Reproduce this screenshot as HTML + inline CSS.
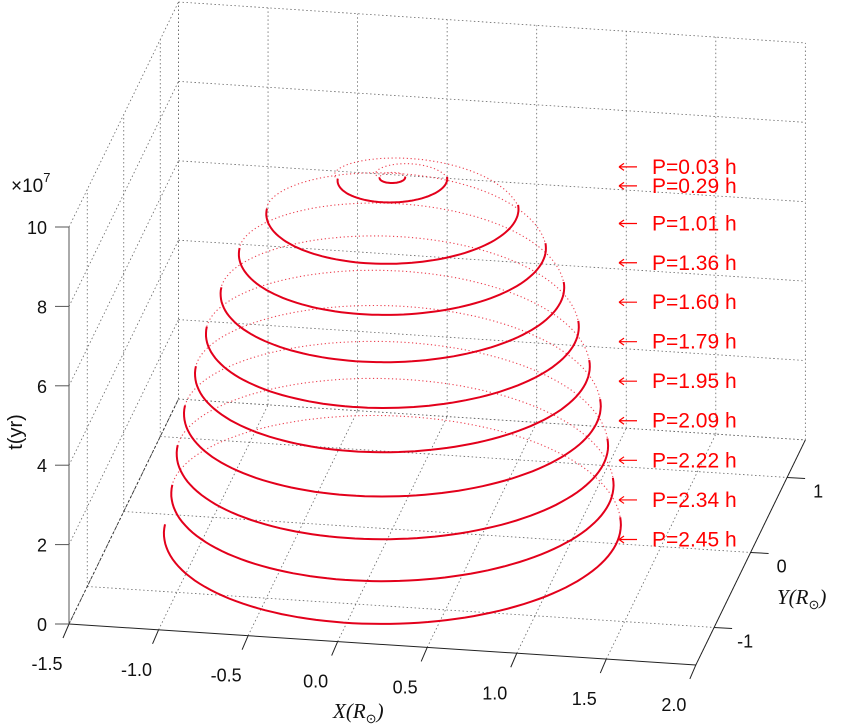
<!DOCTYPE html>
<html><head><meta charset="utf-8"><style>
html,body{margin:0;padding:0;background:#fff;}
svg{display:block;font-family:"Liberation Sans",sans-serif;}
</style></head><body>
<svg id="chart" width="843" height="726" viewBox="0 0 843 726" xmlns="http://www.w3.org/2000/svg">
<g id="grid"></g>
<g id="axes"></g>
<g id="series"></g>
<g id="labels"></g>
</svg>
<script>
const xTicks = [-1.5,-1.0,-0.5,0.0,0.5,1.0,1.5,2.0];
const yTicks = [-1,0,1];
const zTicks = [0,2,4,6,8,10];
const periods = ["2.45","2.34","2.22","2.09","1.95","1.79","1.60","1.36","1.01","0.29","0.03"];
const ringZ = [0,1,2,3,4,5,6,7,8,8.8,8.85];
const ringR = [1.25,1.21,1.18,1.14,1.08,1.02,0.94,0.84,0.69,0.30,0.07];

const NS="http://www.w3.org/2000/svg";
function P(X,Y,Z){return [69+(X+1.5)*179.1+(Y+1.5)*36.5, 624+(X+1.5)*11.7-(Y+1.5)*75-Z*39.7];}
function mk(tag,attrs,parent){const e=document.createElementNS(NS,tag);for(const k in attrs)e.setAttribute(k,attrs[k]);parent.appendChild(e);return e;}
const grid=document.getElementById('grid'),axes=document.getElementById('axes'),series=document.getElementById('series'),labels=document.getElementById('labels');
const gs={stroke:"#666","stroke-width":0.8,"stroke-dasharray":"1.5 2.5",fill:"none"};
function gline(a,b,name,st){const l=mk('line',Object.assign({x1:a[0],y1:a[1],x2:b[0],y2:b[1]},st||gs),grid);

}
xTicks.forEach(x=>gline(P(x,-1.5,0),P(x,1.5,0),'floor-grid-x'));
yTicks.concat([1.5]).forEach(y=>gline(P(-1.5,y,0),P(2,y,0),'floor-grid-y'));
xTicks.forEach(x=>gline(P(x,1.5,0),P(x,1.5,10),'back-grid-x'));
zTicks.forEach(z=>gline(P(-1.5,1.5,z),P(2,1.5,z),'back-grid-z'));
yTicks.concat([1.5]).forEach(y=>gline(P(-1.5,y,0),P(-1.5,y,10),'left-grid-y'));
zTicks.forEach(z=>gline(P(-1.5,-1.5,z),P(-1.5,1.5,z),'left-grid-z'));
gline(P(-1.5,-1.5,0),P(-1.5,1.5,0),'floor-left-edge',{stroke:"#333","stroke-width":0.9,"stroke-dasharray":"3 2",fill:"none"});
function aline(a,b,name,c){const l=mk('line',{x1:a[0],y1:a[1],x2:b[0],y2:b[1],stroke:c||"#222","stroke-width":1},axes);

}
aline(P(-1.5,-1.5,0),P(2,-1.5,0),'x-axis-line');
aline(P(2,-1.5,0),P(2,1.5,0),'y-axis-line');
aline(P(-1.5,-1.5,0),P(-1.5,-1.5,10),'z-axis-line','#555');
function txt(x,y,s,name,opt){const t=mk('text',Object.assign({x:x,y:y,"font-size":18,fill:"#111"},opt||{}),axes);t.textContent=s;

return t;}
xTicks.forEach(x=>{const p=P(x,-1.5,0);aline(p,[p[0]-6,p[1]+14],'x-tick');
txt(p[0]-22,p[1]+46,x.toFixed(1),'x-tick-label',{"text-anchor":"middle"});});
yTicks.forEach(y=>{const p=P(2,y,0);aline(p,[p[0]+18,p[1]+1],'y-tick');
txt(p[0]+31,p[1]+20,String(y),'y-tick-label',{"text-anchor":"middle"});});
zTicks.forEach(z=>{const p=P(-1.5,-1.5,z);aline(p,[p[0]-14,p[1]],'z-tick','#555');
txt(p[0]-22,p[1]+7,String(z),'z-tick-label',{"text-anchor":"end"});});
const ex=txt(11,192,"\u00d710",'z-exponent',{"font-size":19});const sup=mk('tspan',{dy:-10,"font-size":13},ex);sup.textContent="7";
txt(0,0,"t(yr)",'z-axis-title',{transform:"translate(22,432) rotate(-90)","text-anchor":"middle","font-size":20});
function rlabel(x,y,a,name){const t=txt(x,y,"",name,{"font-family":"Liberation Serif,serif","font-size":21,"font-style":"italic"});
const t1=mk('tspan',{},t);t1.textContent=a+"(R";
const t2=mk('tspan',{dy:5,"font-size":13,"font-style":"normal"},t);t2.textContent="\u2299";
const t3=mk('tspan',{dy:-5},t);t3.textContent=")";}
rlabel(333,718,"X",'x-axis-title');
rlabel(777,604,"Y",'y-axis-title');
const red="#e3001b";
function arcPts(t0,t1,z0,z1,r0,r1){const pts=[];const n=80;for(let i=0;i<=n;i++){const f=i/n;const th=(t0+(t1-t0)*f)*Math.PI/180;const r=r0+(r1-r0)*f,z=z0+(z1-z0)*f;const p=P(r*Math.cos(th),r*Math.sin(th),z);pts.push(p[0].toFixed(1)+","+p[1].toFixed(1));}return pts.join(" ");}
let prevY=1e9;
for(let i=0;i<periods.length;i++){
  const z=ringZ[i],r=ringR[i];
  const last=i===periods.length-1;
  const z2=last?z:ringZ[i+1],r2=last?r:ringR[i+1];
  const d=mk('polyline',{points:arcPts(14,188,z,z2,r,r2),fill:"none",stroke:"#ec4050","stroke-width":1.1,"stroke-dasharray":"1.2 2.6"},series);
  
  
  const s=mk('polyline',{points:arcPts(186,376,z,z,r,r),fill:"none",stroke:red,"stroke-width":2},series);
  
  
  const e=P(r*Math.cos(11*Math.PI/180),r*Math.sin(11*Math.PI/180),z);
  let ly=Math.min(e[1]+13,prevY-19);
  if(i>=periods.length-2) ly-=7;
  prevY=ly+(i>=periods.length-2?7:0);
  const ay=ly+1;
  const ar=mk('path',{d:"M619,"+ay+" L637,"+ay+" M619,"+ay+" L624,"+(ay-3.5)+" M619,"+ay+" L624,"+(ay+3.5),stroke:"#f00","stroke-width":1.2,fill:"none"},labels);
  
  
  const t=mk('text',{x:652,y:ly+8,"font-size":21,fill:"#f00"},labels);
  t.textContent="P="+periods[i]+" h";
  
  
}
</script>
</body></html>
